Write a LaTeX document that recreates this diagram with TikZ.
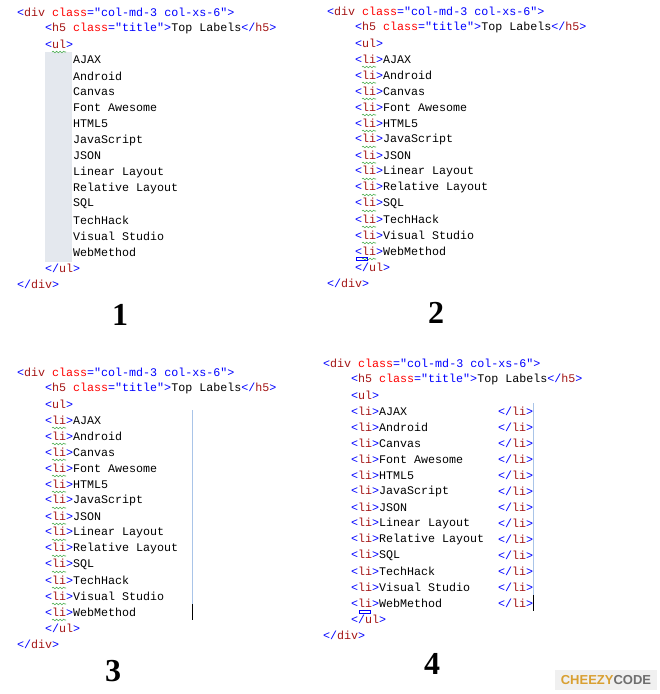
\documentclass[tikz,border=0pt]{standalone}
\usepackage{fontspec}
\setmonofont{Liberation Mono}
\newfontfamily\numfont{Liberation Serif}
\newfontfamily\logofont{Liberation Sans}
\usetikzlibrary{decorations.pathmorphing}
\definecolor{tagb}{HTML}{0000FF}
\definecolor{tagn}{HTML}{A31515}
\definecolor{attr}{HTML}{FF0000}
\definecolor{sq}{HTML}{4CAF50}
\definecolor{barg}{HTML}{E4E8EE}
\definecolor{guide}{HTML}{A9C4E8}
\newcommand{\ot}[1]{\textcolor{tagb}{<}\textcolor{tagn}{#1}\textcolor{tagb}{>}}
\newcommand{\ct}[1]{\textcolor{tagb}{</}\textcolor{tagn}{#1}\textcolor{tagb}{>}}
\newcommand{\divl}{\textcolor{tagb}{<}\textcolor{tagn}{div} \textcolor{attr}{class}\textcolor{tagb}{="col-md-3 col-xs-6">}}
\newcommand{\hl}{\textcolor{tagb}{<}\textcolor{tagn}{h5} \textcolor{attr}{class}\textcolor{tagb}{="title">}Top Labels\ct{h5}}
\tikzset{code/.style={anchor=west,inner sep=0pt,font=\fontsize{11.67pt}{12pt}\ttfamily},
 num/.style={font=\fontsize{32pt}{32pt}\numfont\bfseries},
 squig/.style={draw=sq,line width=0.6pt,decorate,decoration={snake,amplitude=0.8pt,segment length=3.5pt}}}
\begin{document}
\begin{tikzpicture}[x=1pt,y=-1pt]
\useasboundingbox (0,0) rectangle (660,694);
\def\items{AJAX,Android,Canvas,Font Awesome,HTML5,JavaScript,JSON,Linear Layout,Relative Layout,SQL,TechHack,Visual Studio,WebMethod}
% Panel 1
\fill[barg] (45,52) rectangle (72,262);
\node[code] (a1) at (17,12) {\divl};
\node[code] (a2) at (45,28) {\hl};
\node[code] (a3) at (45,44) {\ot{ul}};
\draw[squig] (52,52) -- (66,52);
\foreach \t [count=\i] in \items {\node[code] (a4-\i) at (73,44+16*\i) {\t};}
\node[code] (a5) at (45,268) {\ct{ul}};
\node[code] (a6) at (17,284) {\ct{div}};
\node[num] (n1) at (120,315) {1};
% Panel 2
\node[code] (b1) at (327,11) {\divl};
\node[code] (b2) at (355,27) {\hl};
\node[code] (b3) at (355,43) {\ot{ul}};
\foreach \t [count=\i] in \items {\node[code] (b4-\i) at (355,43+16*\i) {\ot{li}\t};
 \draw[squig] (362,51+16*\i) -- (376,51+16*\i);}
\draw[tagb,line width=0.8pt] (356,257) rectangle (367,260);
\node[code] (b5) at (355,267) {\ct{ul}};
\node[code] (b6) at (327,283) {\ct{div}};
\node[num] (n2) at (436,313) {2};
% Panel 3
\node[code] (c1) at (17,372) {\divl};
\node[code] (c2) at (45,388) {\hl};
\node[code] (c3) at (45,404) {\ot{ul}};
\foreach \t [count=\i] in \items {\node[code] (c4-\i) at (45,404+16*\i) {\ot{li}\t};
 \draw[squig] (52,412+16*\i) -- (66,412+16*\i);}
\draw[guide,line width=0.8pt] (192,410) -- (192,604);
\draw[black,line width=0.9pt] (192,604) -- (192,620);
\node[code] (c5) at (45,628) {\ct{ul}};
\node[code] (c6) at (17,644) {\ct{div}};
\node[num] (n3) at (113,671) {3};
% Panel 4
\node[code] (d1) at (323,363) {\divl};
\node[code] (d2) at (351,379) {\hl};
\node[code] (d3) at (351,395) {\ot{ul}};
\foreach \t [count=\i] in \items {\node[code] (d4-\i) at (351,395+16*\i) {\ot{li}\t};
 \node[code] (d7-\i) at (498,395+16*\i) {\ct{li}};}
\draw[guide,line width=0.8pt] (533,403) -- (533,595);
\draw[black,line width=0.9pt] (533,595) -- (533,611);
\draw[tagb,line width=0.8pt] (359,610) rectangle (370,613);
\node[code] (d5) at (351,619) {\ct{ul}};
\node[code] (d6) at (323,635) {\ct{div}};
\node[num] (n4) at (432,664) {4};
% Logo
\fill[black!6] (555,670) rectangle (657,690);
\node[anchor=center,inner sep=0pt,font=\fontsize{13pt}{13pt}\logofont\bfseries] (logo) at (606,680) {\textcolor[HTML]{D9A032}{CHEEZY}\textcolor[HTML]{6E6E6E}{CODE}};
\end{tikzpicture}
\end{document}
